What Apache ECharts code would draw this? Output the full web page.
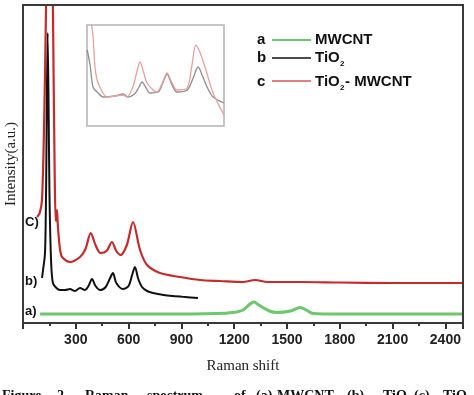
<!DOCTYPE html>
<html><head><meta charset="utf-8">
<script src="https://cdn.jsdelivr.net/npm/echarts@6/dist/echarts.min.js"></script>
<style>html,body{margin:0;padding:0;background:#fff}#c{width:474px;height:395px}</style>
</head><body><div id="c"></div>
<script>
// Main spectra (Raman shift, cm-1 ; intensity, a.u.)
const shiftA = [97, 400, 800, 1100, 1193, 1250, 1290, 1312, 1340, 1400, 1443, 1520, 1574, 1610, 1648, 1800, 2200, 2500];
const intensityA = [9, 9, 9, 9.5, 10.5, 13, 19, 21, 18, 12, 10.5, 12, 15.5, 13, 9.5, 9, 9, 9];

const shiftB = [108, 114, 125, 131, 140, 151, 160, 170, 190, 210, 240, 267, 295, 324, 352, 372, 392, 412, 438, 470, 495, 511, 530, 568, 600, 620, 636, 655, 676, 705, 739, 800, 852, 920, 994];
const intensityB = [45, 53, 70, 130, 290, 123, 60, 40, 35, 33, 33, 34, 32, 35, 33, 37, 44, 37, 33, 36, 45, 50, 40, 34, 37, 48, 56, 44, 36, 32, 30, 28, 27, 26, 25];

const shiftC = [80, 95, 108, 120, 131, 150, 170, 180, 186, 193, 197, 205, 212, 222, 267, 324, 355, 385, 412, 440, 475, 505, 530, 555, 590, 625, 665, 705, 778, 892, 1006, 1119, 1250, 1318, 1390, 1574, 1800, 2100, 2500];
const intensityC = [106, 110, 123, 200, 318, 700, 318, 150, 102, 113, 100, 82, 72, 66, 61, 66, 74, 90, 78, 70, 72, 81, 72, 68, 78, 101, 73, 58, 50, 46, 43, 42, 41, 43, 41, 41, 40.5, 40, 40];

// Inset (zoomed 170-760 cm-1)
const insetShiftB = [171, 184, 196, 218, 240, 291, 326, 347, 375, 392, 408, 425, 442, 477, 497, 515, 535, 558, 602, 628, 649, 670, 688, 714, 761];
const insetIntB = [76, 60, 39, 33, 29, 30, 32, 29, 32, 38, 44, 38, 33, 34, 43, 52, 42, 34, 36, 48, 59, 49, 39, 29, 23];
const insetShiftC = [190, 196, 205, 218, 257, 291, 326, 343, 369, 385, 399, 414, 429, 472, 495, 515, 535, 558, 602, 622, 640, 660, 679, 714, 761];
const insetIntC = [101, 90, 58, 43, 29, 30, 31, 29, 40, 54, 64, 54, 43, 34, 43, 53, 44, 36, 38, 60, 81, 72, 59, 33, 11];

const xTicks = [300, 600, 900, 1200, 1500, 1800, 2100, 2400];
const legendLetters = ['a', 'b', 'c'];
const curveLabels = ['a)', 'b)', 'C)'];

const zip = (xs, ys) => xs.map((x, i) => [x, ys[i]]);
const chart = echarts.init(document.getElementById('c'));
const sans = 'Liberation Sans, Arial, sans-serif';
const serif = 'Liberation Serif, Times New Roman, serif';
const capFont = 'bold 14px ' + serif;
const capTop = 389;

chart.setOption({
  animation: false,
  grid: [
    {left: 23, right: 11, top: 5, bottom: 72, show: true, borderColor: '#3a3a3a', borderWidth: 2, z: 3,
     containLabel: false, outerBoundsMode: 'none'},
    {left: 87, top: 25, width: 137, height: 101, show: true, borderColor: '#b4b4b4', borderWidth: 1.5, backgroundColor: '#fff',
     containLabel: false, outerBoundsMode: 'none'}
  ],
  xAxis: [
    {gridIndex: 0, type: 'value', min: 0, max: 2500, interval: 300,
     axisLine: {show: true, lineStyle: {color: '#3a3a3a', width: 2}},
     axisTick: {show: true, inside: false, length: 6, lineStyle: {color: '#333', width: 2}},
     minorTick: {show: true, splitNumber: 2, length: 3, lineStyle: {color: '#333', width: 2}},
     splitLine: {show: false},
     axisLabel: {margin: 10, color: '#222', fontFamily: sans, fontWeight: 'bold', fontSize: 14,
       formatter: v => xTicks.indexOf(v) >= 0 ? String(v) : ''},
     name: 'Raman shift', nameLocation: 'middle', nameGap: 36,
     nameTextStyle: {fontFamily: serif, fontSize: 15, color: '#222'}},
    {gridIndex: 1, type: 'value', min: 170, max: 761, show: false}
  ],
  yAxis: [
    {gridIndex: 0, type: 'value', min: 0, max: 318, axisLine: {show: false}, axisTick: {show: false},
     axisLabel: {show: false}, splitLine: {show: false},
     name: 'Intensity(a.u.)', nameLocation: 'middle', nameGap: 4,
     nameTextStyle: {fontFamily: serif, fontSize: 15, color: '#222'}},
    {gridIndex: 1, type: 'value', min: 0, max: 101, show: false}
  ],
  series: [
    {type: 'line', xAxisIndex: 0, yAxisIndex: 0, data: zip(shiftA, intensityA), smooth: 0.3, showSymbol: false,
     lineStyle: {color: '#6cc86a', width: 3}, z: 2},
    {type: 'line', xAxisIndex: 0, yAxisIndex: 0, data: zip(shiftB, intensityB), smooth: 0.3, showSymbol: false,
     lineStyle: {color: '#111', width: 2}, z: 2},
    {type: 'line', xAxisIndex: 0, yAxisIndex: 0, data: zip(shiftC, intensityC), smooth: 0.3, showSymbol: false,
     lineStyle: {color: '#c62a2a', width: 2.2}, z: 2},
    {type: 'line', xAxisIndex: 1, yAxisIndex: 1, data: zip(insetShiftB, insetIntB), smooth: 0.3, showSymbol: false,
     lineStyle: {color: '#8e8e8e', width: 1.3}, z: 4},
    {type: 'line', xAxisIndex: 1, yAxisIndex: 1, data: zip(insetShiftC, insetIntC), smooth: 0.3, showSymbol: false,
     lineStyle: {color: '#e9a0a0', width: 1.3}, z: 4}
  ],
  graphic: [
    // legend
    {type: 'text', left: 257, top: 32, style: {text: legendLetters[0], font: 'bold 15px ' + sans, fill: '#111'}},
    {type: 'line', shape: {x1: 272, y1: 40, x2: 311, y2: 40}, style: {stroke: '#6cc86a', lineWidth: 2}},
    {type: 'text', left: 315, top: 32, style: {text: 'MWCNT', font: 'bold 15px ' + sans, fill: '#111'}},
    {type: 'text', left: 257, top: 50, style: {text: legendLetters[1], font: 'bold 15px ' + sans, fill: '#111'}},
    {type: 'line', shape: {x1: 272, y1: 58, x2: 311, y2: 58}, style: {stroke: '#111', lineWidth: 1.5}},
    {type: 'text', left: 315, top: 50, style: {text: 'TiO', font: 'bold 15px ' + sans, fill: '#111'}},
    {type: 'text', left: 340, top: 60, style: {text: '2', font: 'bold 8px ' + sans, fill: '#111'}},
    {type: 'text', left: 257, top: 74, style: {text: legendLetters[2], font: 'bold 15px ' + sans, fill: '#111'}},
    {type: 'line', shape: {x1: 272, y1: 81, x2: 311, y2: 81}, style: {stroke: '#d85555', lineWidth: 1.5}},
    {type: 'text', left: 315, top: 74, style: {text: 'TiO', font: 'bold 15px ' + sans, fill: '#111'}},
    {type: 'text', left: 340, top: 84, style: {text: '2', font: 'bold 8px ' + sans, fill: '#111'}},
    {type: 'text', left: 345, top: 74, style: {text: '- MWCNT', font: 'bold 15px ' + sans, fill: '#111'}},
    // curve labels
    {type: 'text', left: 25, top: 216, style: {text: curveLabels[2], font: 'bold 13px ' + sans, fill: '#111'}},
    {type: 'text', left: 25, top: 275, style: {text: curveLabels[1], font: 'bold 13px ' + sans, fill: '#111'}},
    {type: 'text', left: 25, top: 305, style: {text: curveLabels[0], font: 'bold 13px ' + sans, fill: '#111'}},
    // caption (partly cut by the bottom edge, justified words)
    {type: 'text', left: 2, top: capTop, style: {text: 'Figure', font: capFont, fill: '#111'}},
    {type: 'text', left: 57, top: capTop, style: {text: '2', font: capFont, fill: '#111'}},
    {type: 'text', left: 70, top: capTop, style: {text: '-', font: capFont, fill: '#111'}},
    {type: 'text', left: 85, top: capTop, style: {text: 'Raman', font: capFont, fill: '#111'}},
    {type: 'text', left: 147, top: capTop, style: {text: 'spectrum', font: capFont, fill: '#111'}},
    {type: 'text', left: 234, top: capTop, style: {text: 'of', font: capFont, fill: '#111'}},
    {type: 'text', left: 256, top: capTop, style: {text: '(a)', font: capFont, fill: '#111'}},
    {type: 'text', left: 277, top: capTop, style: {text: 'MWCNT,', font: capFont, fill: '#111'}},
    {type: 'text', left: 347, top: capTop, style: {text: '(b)', font: capFont, fill: '#111'}},
    {type: 'text', left: 383, top: capTop, style: {text: 'TiO\u2082', font: capFont, fill: '#111'}},
    {type: 'text', left: 414, top: capTop, style: {text: '(c)', font: capFont, fill: '#111'}},
    {type: 'text', left: 443, top: capTop, style: {text: 'TiO\u2082-MWCNT', font: capFont, fill: '#111'}}
  ]
});
</script></body></html>
